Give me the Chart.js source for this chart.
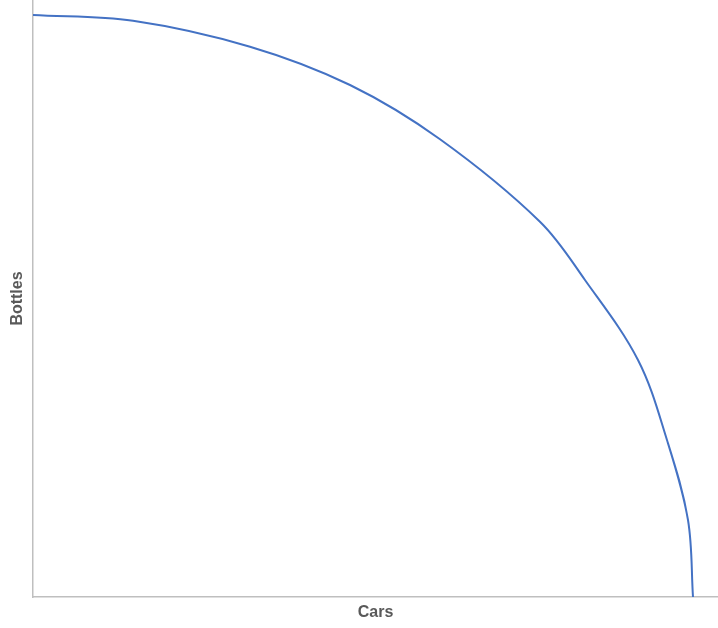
<!DOCTYPE html>
<html>
<head>
<meta charset="utf-8">
<script src="https://cdn.jsdelivr.net/npm/chart.js@4/dist/chart.umd.min.js"></script>
<style>
html,body{margin:0;padding:0;background:#fff;}
#wrap{width:718px;height:628px;position:relative;}
</style>
</head>
<body>
<div id="wrap"><canvas id="c"></canvas></div>
<script>
const xTitle = "Cars";
const yTitle = "Bottles";
const cars =    [0, 14.6, 31.68, 46.28, 59.42, 74.01, 80.58, 88.32, 92.55, 95.62, 96.35];
const bottles = [97.49, 96.53, 92.18, 85.76, 76.67, 62.86, 53.1, 39.7, 26.3, 12.9, 0];

const points = cars.map((x, i) => ({x: x, y: bottles[i]}));

new Chart(document.getElementById('c'), {
  type: 'line',
  data: {
    datasets: [{
      data: points,
      borderColor: '#4472C4',
      borderWidth: 2,
      pointRadius: 0,
      fill: false,
      tension: 0.35
    }]
  },
  options: {
    responsive: true,
    maintainAspectRatio: false,
    animation: false,
    layout: {padding: 0},
    plugins: {legend: {display: false}, tooltip: {enabled: false}},
    scales: {
      x: {
        type: 'linear', min: 0, max: 100,
        grid: {display: false, drawTicks: false},
        border: {display: true, color: '#BFBFBF', width: 1.5},
        ticks: {display: false},
        title: {display: true, text: xTitle, color: '#595959',
                font: {family: 'Liberation Sans', size: 16, weight: 'bold'},
                padding: {top: 0, bottom: 5.4}},
        afterFit: s => { s.height = 31; }
      },
      y: {
        type: 'linear', min: 0, max: 100,
        grid: {display: false, drawTicks: false},
        border: {display: true, color: '#BFBFBF', width: 1.5},
        ticks: {display: false},
        title: {display: true, text: yTitle, color: '#595959',
                font: {family: 'Liberation Sans', size: 16, weight: 'bold'},
                padding: {top: 8.4, bottom: 0}},
        afterFit: s => { s.width = 33; }
      }
    }
  }
});
</script>
</body>
</html>
